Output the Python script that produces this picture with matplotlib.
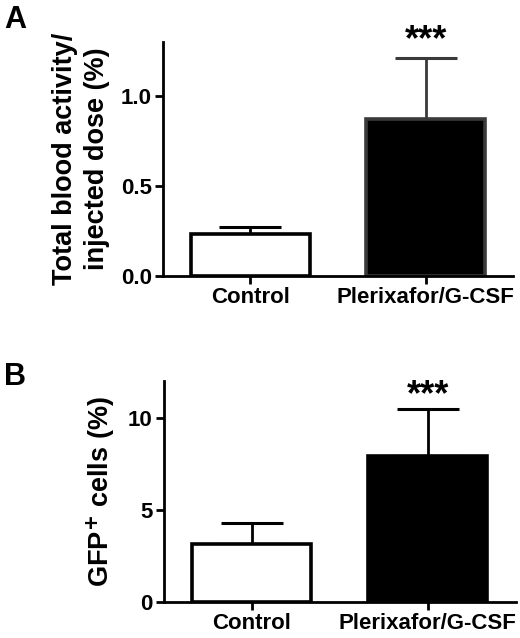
import matplotlib.pyplot as plt

# data
groups = ['Control', 'Plerixafor/G-CSF']
blood_mean = [0.235, 0.873]
blood_err = [0.040, 0.340]
gfp_mean = [3.12, 7.94]
gfp_err = [1.14, 2.52]
colors = ['white', 'black']

plt.rcParams['font.family'] = ['Liberation Sans', 'DejaVu Sans']
plt.rcParams['font.weight'] = 'bold'

fig = plt.figure(figsize=(5.2, 6.38), dpi=100)
ax1 = fig.add_axes([0.313, 0.567, 0.674, 0.367])
ax2 = fig.add_axes([0.315, 0.057, 0.677, 0.346])


def draw_panel(ax, means, errs, ylim, yticks, yticklabels, ylabel, dark, star_dy):
    x = range(len(means))
    edges = ['black', dark]
    for i in x:
        ax.errorbar(i, means[i], yerr=[[0], [errs[i]]], fmt='none',
                    ecolor=edges[i], elinewidth=2,
                    capsize=22, capthick=2.2, zorder=1)
        ax.bar(i, means[i], width=0.675, color=colors[i], edgecolor=edges[i],
               linewidth=2.6, zorder=2)
    ax.set_xlim(-0.5, 1.5)
    ax.set_ylim(*ylim)
    ax.set_yticks(yticks)
    ax.set_yticklabels(yticklabels)
    ax.set_xticks(list(x))
    ax.set_xticklabels(groups)
    for s in ['top', 'right']:
        ax.spines[s].set_visible(False)
    for s in ['left', 'bottom']:
        ax.spines[s].set_linewidth(2)
    ax.tick_params(axis='y', width=2, length=6, labelsize=16, pad=2)
    ax.tick_params(axis='x', width=2, length=6, labelsize=16, pad=2)
    ax.set_ylabel(ylabel, fontsize=19.5, fontweight='bold', labelpad=8,
                  linespacing=1.3)
    ax.annotate('***', xy=(1, means[1] + errs[1]), xytext=(0, star_dy),
                textcoords='offset points', ha='center', va='bottom',
                fontsize=26, fontweight='bold', annotation_clip=False)


draw_panel(ax1, blood_mean, blood_err, (0, 1.3), [0, 0.5, 1.0],
           ['0.0', '0.5', '1.0'], 'Total blood activity/\ninjected dose (%)',
           '#3a3a3a', 0)
draw_panel(ax2, gfp_mean, gfp_err, (0, 12), [0, 5, 10],
           ['0', '5', '10'], 'GFP$^{\\mathbf{+}}$ cells (%)', 'black', -3)

fig.text(0.008, 0.992, 'A', fontsize=22, fontweight='bold', va='top')
fig.text(0.008, 0.433, 'B', fontsize=22, fontweight='bold', va='top')

fig.savefig('out.png', dpi=100)
